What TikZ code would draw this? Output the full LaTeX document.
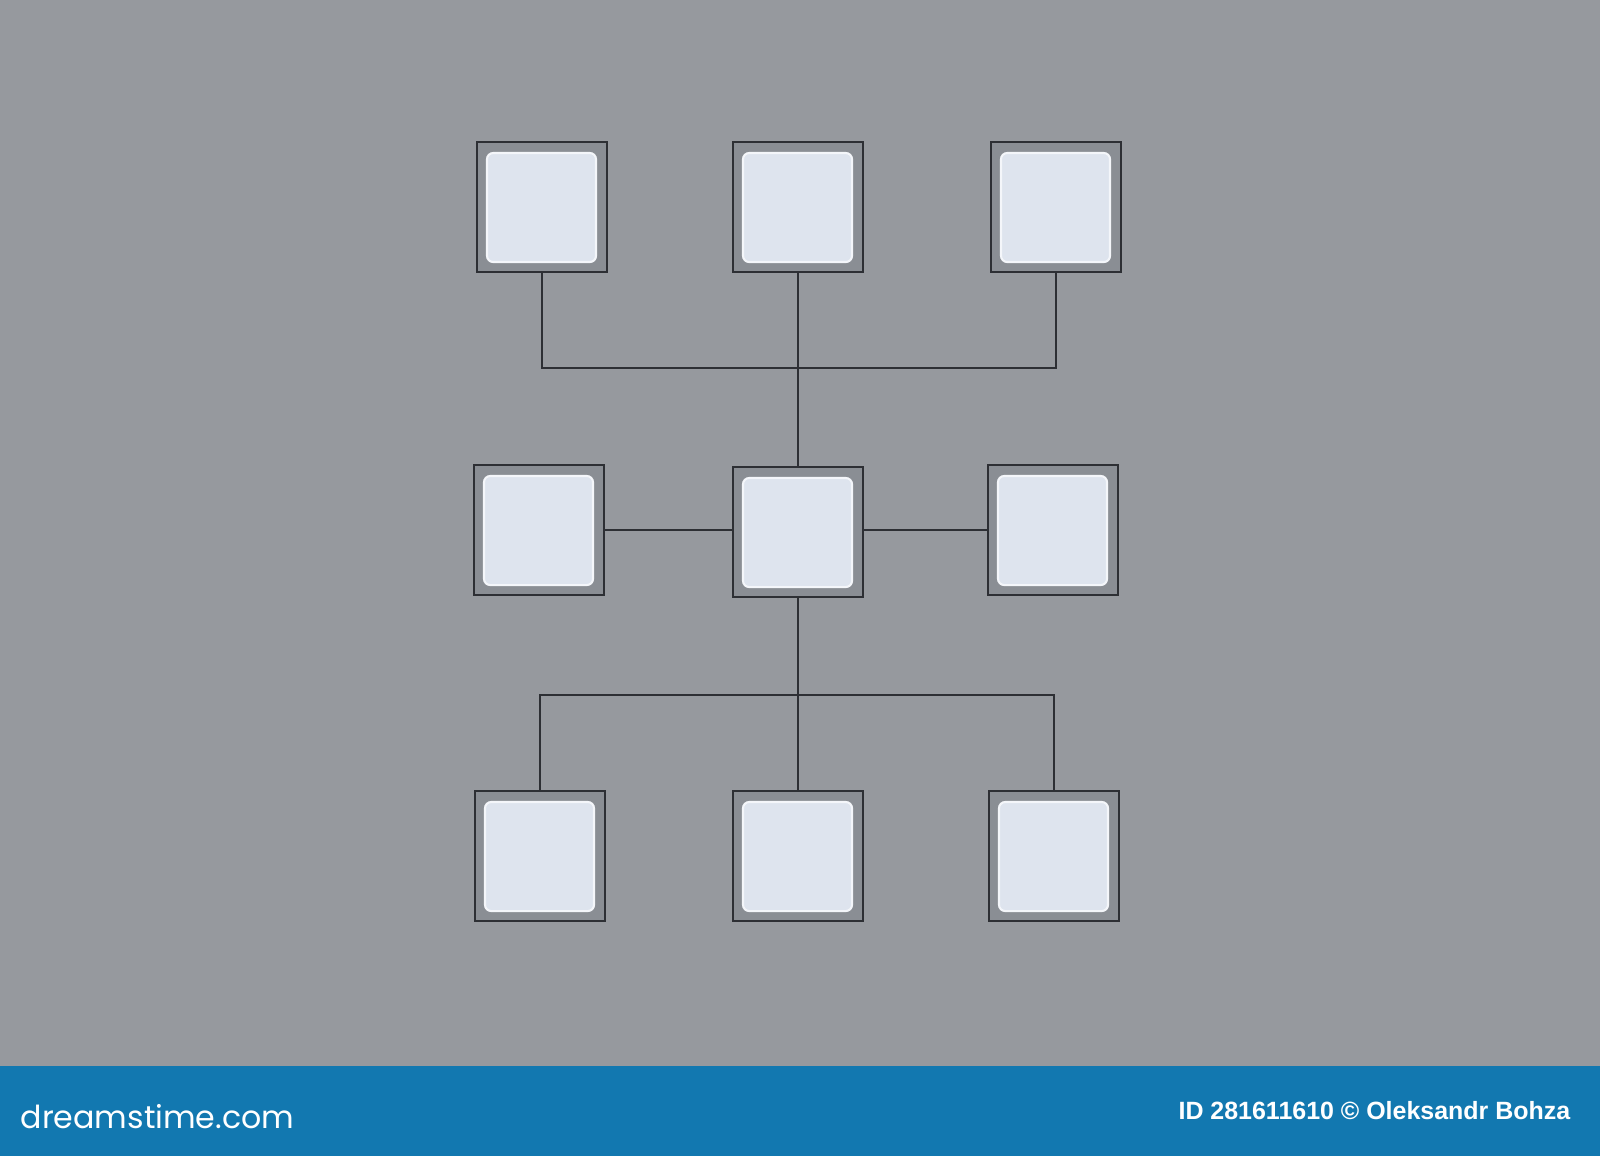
\documentclass[tikz,border=0pt]{standalone}
\usepackage{fontspec}
\setmainfont{Liberation Sans}
\newfontfamily\logofont{Poppins}
\usetikzlibrary{calc}
\definecolor{wall}{RGB}{150,153,158}
\definecolor{boxedge}{RGB}{45,47,52}
\definecolor{boxbase}{RGB}{138,142,148}
\definecolor{tilefill}{RGB}{222,228,238}
\definecolor{tileedge}{RGB}{244,246,250}
\definecolor{banner}{RGB}{18,120,176}
\tikzset{
  box/.style={draw=boxedge, line width=0.75pt, fill=boxbase, minimum size=1.3cm, inner sep=0pt,
    path picture={\fill[tilefill, draw=tileedge, line width=0.6pt, rounded corners=1.8pt]
      ([shift={(0.1cm,-0.11cm)}]path picture bounding box.north west) rectangle
      ([shift={(-0.11cm,0.1cm)}]path picture bounding box.south east);}},
  link/.style={draw=boxedge, line width=0.75pt}
}
\begin{document}
\begin{tikzpicture}[x=0.01cm, y=-0.01cm]
		%%%%% START %%%%%
		
		\useasboundingbox (0, 0) rectangle (1600, 1156);
		\fill[wall] (0, 0) rectangle (1600, 1066);
		\fill[banner] (0, 1066) rectangle (1600, 1156);
		
		% top row
		\node[box] (topl) at (542, 207) {};
		\node[box] (topm) at (798, 207) {};
		\node[box] (topr) at (1056, 207) {};
		
		% middle row
		\node[box] (midl) at (539, 530) {};
		\node[box] (hub) at (798, 532) {};
		\node[box] (midr) at (1053, 530) {};
		
		% bottom row
		\node[box] (botl) at (540, 856) {};
		\node[box] (botm) at (798, 856) {};
		\node[box] (botr) at (1054, 856) {};
		
		\coordinate (topbus) at (798, 368);
		\coordinate (botbus) at (798, 695);
		
		\draw[link] (topl.south) -- (topl.south |- topbus) -- (topr.south |- topbus) -- (topr.south);
		\draw[link] (topm.south) -- (hub.north);
		\draw[link] (midl.east) -- (midl.east -| hub.west);
		\draw[link] (midr.west -| hub.east) -- (midr.west);
		\draw[link] (hub.south) -- (botm.north);
		\draw[link] (botl.north) -- (botl.north |- botbus) -- (botr.north |- botbus) -- (botr.north);
		
		\node[anchor=base west, text=white, inner sep=0pt, font=\logofont\fontsize{9}{11}\selectfont] (site) at (20, 1128) {dreamstime.com};
		\node[anchor=base east, text=white, inner sep=0pt, font=\bfseries\fontsize{7.1}{9}\selectfont] (credit) at (1571, 1119) {ID 281611610 © Oleksandr Bohza};
		
		%%%%% END %%%%%
	\end{tikzpicture}
\end{document}
